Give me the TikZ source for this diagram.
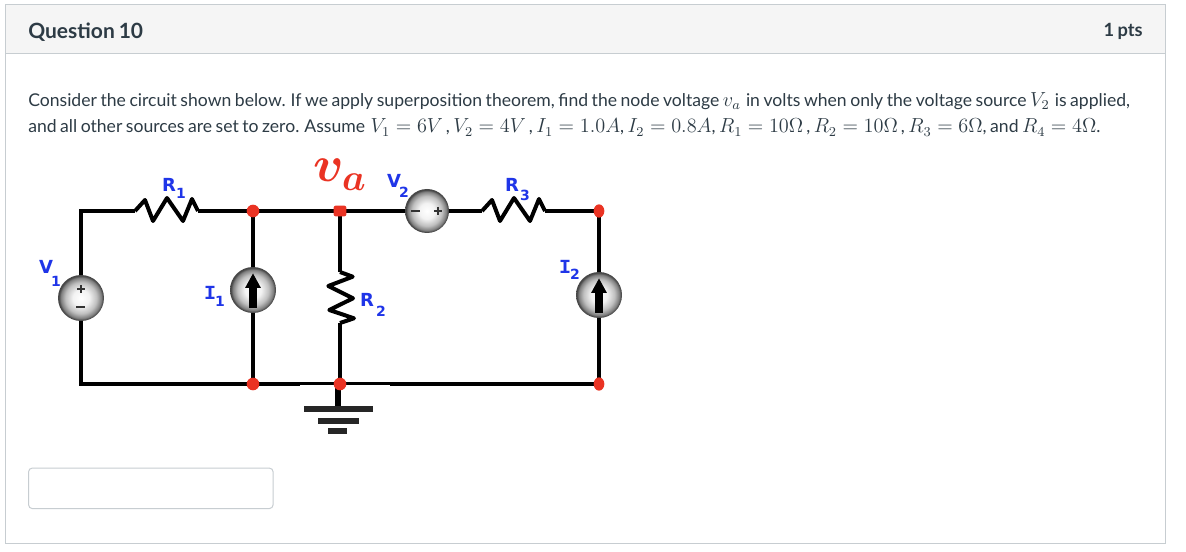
\documentclass[tikz,border=0pt]{standalone}
\usepackage{graphicx}
\usepackage{fontspec}
\setmainfont[WordSpace=0.78]{Lato}
\newfontfamily\lblfont{DejaVu Sans}
\newfontfamily\ifont{Liberation Mono}
\usetikzlibrary{arrows.meta,shapes.geometric}
\definecolor{ink}{HTML}{2D3B45}
\definecolor{edge}{HTML}{C7CDD1}
\definecolor{headfill}{HTML}{F5F5F5}
\definecolor{dot}{HTML}{EA3323}
\definecolor{lbl}{HTML}{1F35E8}
\newcommand{\mth}[1]{\scalebox{1.27}{\fontsize{12}{14}\selectfont$#1$}}
\pgfdeclareradialshading{ball}{\pgfpointorigin}{color(0bp)=(white); color(9bp)=(white!95!black); color(17bp)=(black!25); color(22bp)=(black!50); color(24bp)=(black!72); color(25bp)=(black!72); color(50bp)=(black!72)}
\tikzset{
  x=0.75pt,y=-0.75pt,
  wire/.style={line width=3pt,black,line join=miter},
  zag/.style={line width=3pt,black,line join=round},
  source/.style={circle,minimum size=34.5pt,inner sep=0pt,shading=ball},
  junction/.style={circle,fill=dot,minimum size=9.5pt,inner sep=0pt},
  edgejunction/.style={ellipse,fill=dot,minimum width=8pt,minimum height=10pt,inner sep=0pt},
  squarejunction/.style={rectangle,rounded corners=1.5pt,fill=dot,minimum width=9.5pt,minimum height=8pt,inner sep=0pt},
  lab/.style={text=lbl,font=\lblfont\bfseries\fontsize{13.5}{13.5}\selectfont,inner sep=0pt},
  sub/.style={text=lbl,font=\lblfont\bfseries\fontsize{10.5}{10.5}\selectfont,inner sep=0pt},
  ilab/.style={text=lbl,font=\ifont\bfseries\fontsize{15}{15}\selectfont,inner sep=0pt},
  body/.style={anchor=base west,inner sep=0pt,text=ink,font=\fontsize{13.2}{14}\selectfont},
  bar/.style={line width=3.8pt,black!85},
  sign/.style={line width=0.8pt,black!80},
  uparrow/.style={line width=5.5pt,black,-{Triangle[length=11pt,width=11pt]}},
}
\begin{document}
\begin{tikzpicture}
\useasboundingbox (0,0) rectangle (1186,552);
\fill[white] (0,0) rectangle (1186,552);
% card
\fill[headfill] (5,5) rectangle (1165,54);
\draw[edge,line width=0.75pt] (5,5) rectangle (1165,543);
\draw[edge,line width=0.75pt] (5,54) -- (1165,54);
\node[anchor=base west,inner sep=0pt,text=ink,font=\bfseries\fontsize{15.75}{18}\selectfont] (title) at (28,38.5) {Question 10};
\node[anchor=base east,inner sep=0pt,text=ink,font=\bfseries\fontsize{13.7}{16}\selectfont] (pts) at (1143,37) {1 pts};
\node[body] (line1) at (28,106.7) {Consider the circuit shown below. If we apply superposition theorem, find the node voltage \mth{v_a}\hspace{1.2pt} in volts when only the voltage source \mth{V_2}\hspace{1.2pt} is applied,};
\node[body] (line2) at (28,133) {and all other sources are set to zero. Assume \hspace{1.5pt}\mth{V_1=6V}\,, \mth{V_2=4V}\,, \mth{I_1=1.0A}, \mth{I_2=0.8A}, \mth{R_1=10\Omega}\,, \mth{R_2=10\Omega}\,, \mth{R_3=6\Omega}, and \mth{R_4=4\Omega}.};
\node[draw=edge,line width=0.75pt,rounded corners=3pt,minimum width=183.5pt,minimum height=30.5pt,inner sep=0pt,anchor=north west] (answer) at (28,467.5) {};
% circuit places
\coordinate (r1a) at (135,211);
\coordinate (r1b) at (198,211);
\coordinate (r3a) at (482,211);
\coordinate (r3b) at (545,211);
\coordinate (r2a) at (340,272);
\coordinate (r2b) at (340,323);
\coordinate (gnd) at (338,409);
\coordinate (b1l) at (304,409);
\coordinate (b1r) at (373,409);
\coordinate (b2l) at (318,421);
\coordinate (b2r) at (359,421);
\coordinate (b3l) at (328,431);
\coordinate (b3r) at (347,431);
\coordinate (n1t) at (253,211);
\coordinate (n1b) at (253,384);
\coordinate (na) at (340,211);
\coordinate (ng) at (340,384);
\coordinate (n3t) at (599,211);
\coordinate (n3b) at (599,384);
\node[source] (v1) at (81,298) {};
\node[source] (i1) at (253,290) {};
\node[source] (i2) at (599,295) {};
\node[source,minimum size=33pt] (v2) at (427,211) {};
% wires
\draw[wire] (v1.north) |- (r1a);
\draw[wire] (v1.south) |- (n1b);
\draw[wire] (r1b) -- (n1t);
\draw[wire] (n1t) -- (na);
\draw[wire] (n1t) -- (i1);
\draw[wire] (i1) -- (n1b);
\draw[wire] (n1b) -- (ng);
\draw[wire] (ng) -- (n3b);
\draw[wire] (na) -- (v2);
\draw[wire] (v2) -- (r3a);
\draw[wire] (r3b) -- (n3t);
\draw[wire] (n3t) -- (i2);
\draw[wire] (i2) -- (n3b);
\draw[wire] (na) -- (r2a);
\draw[wire] (r2b) -- (ng);
\fill[white] (300,385.2) rectangle (390,388);
\draw[line width=5pt,black] (ng -| gnd) -- (gnd);
\draw[bar] (b1l) -- (b1r);
\draw[bar] (b2l) -- (b2r);
\draw[bar] (b3l) -- (b3r);
% junctions
\node[junction] (jn1t) at (n1t) {};
\node[junction] (jn1b) at (n1b) {};
\node[junction] (jng) at (ng) {};
\node[edgejunction] (jn3t) at (n3t) {};
\node[edgejunction] (jn3b) at (n3b) {};
\node[squarejunction] (jna) at (na) {};
% resistors
\draw[zag] (r1a) -- ++(10,-11) -- ++(8,21) -- ++(14,-23) -- ++(16,23) -- ++(9,-22) -- (r1b);
\draw[zag] (r3a) -- ++(10,-11) -- ++(8,21) -- ++(14,-23) -- ++(16,23) -- ++(9,-22) -- (r3b);
\draw[zag] (r2a) -- ++(12.7,4.7) -- ++(-24.4,9.3) -- ++(24.7,12.3) -- ++(-23.7,11.7) -- ++(24.7,8.3) -- (r2b);
% source symbols
\draw[uparrow] ([yshift=-13.3pt]i1.center) -- ([yshift=12.6pt]i1.center);
\draw[uparrow] ([yshift=-13.3pt]i2.center) -- ([yshift=12.6pt]i2.center);
\draw[sign] (81,285) -- (81,293) (77,289) -- (85,289);
\draw[sign] (76,307) -- (85,307);
\draw[sign] (411,211) -- (420,211);
\draw[sign] (434,211) -- (442,211) (438,207) -- (438,215);
% labels
\node[lab] (tr1) at (169,185) {R};
\node[sub] (tr1s) at (181,193) {1};
\node[lab] (tr3) at (512,185) {R};
\node[sub] (tr3s) at (525,195) {3};
\node[lab] (tr2) at (367,300) {R};
\node[sub] (tr2s) at (381,311) {2};
\node[lab] (tv1) at (46,267) {V};
\node[sub] (tv1s) at (56,281) {1};
\node[lab] (tv2) at (394,181) {V};
\node[sub] (tv2s) at (404,192) {2};
\node[ilab] (ti1) at (210,293) {I};
\node[sub] (ti1s) at (220,301) {1};
\node[ilab] (ti2) at (565,267) {I};
\node[sub] (ti2s) at (575,274) {2};
\node[inner sep=0pt,text=dot] (tva) at (328.5,170) {\scalebox{3.8}{\fontsize{10}{10}\selectfont\boldmath$v$}};
\node[inner sep=0pt,text=dot] (tsa) at (354,182) {\scalebox{2.8}{\fontsize{10}{10}\selectfont\boldmath$a$}};
\end{tikzpicture}
\end{document}
